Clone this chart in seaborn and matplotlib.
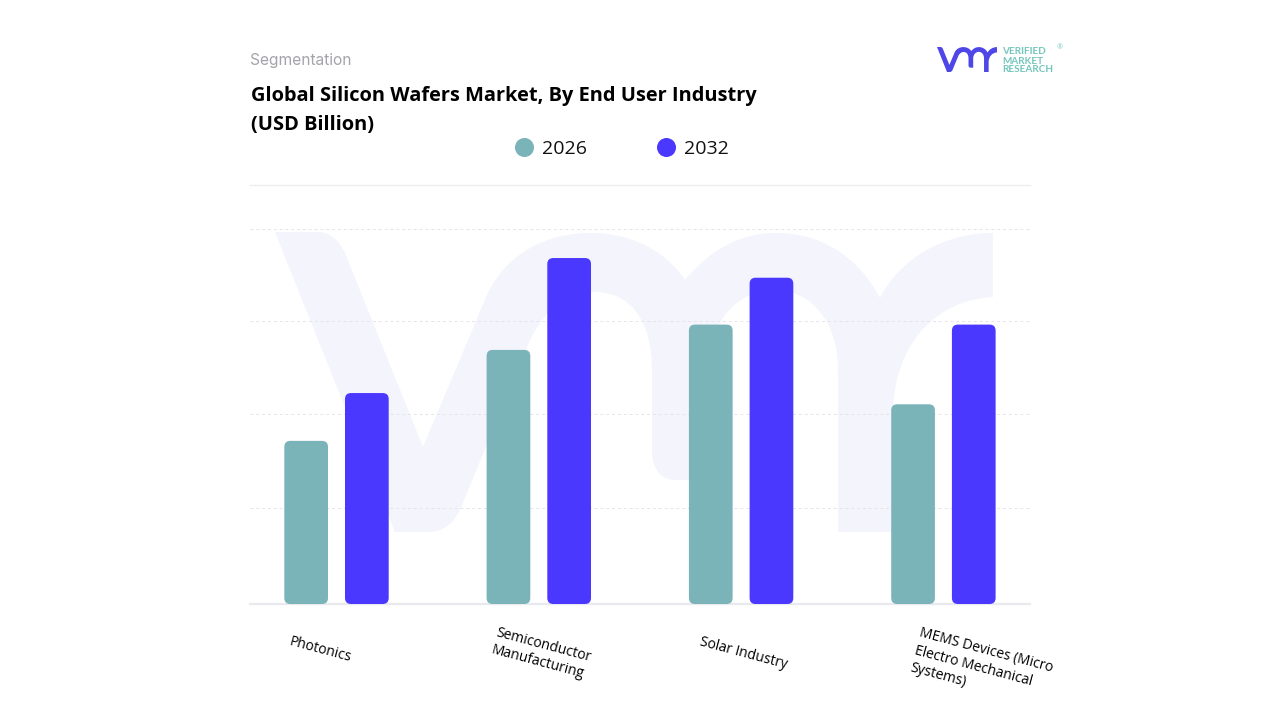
import pandas as pd
import matplotlib.pyplot as plt
import seaborn as sns
from matplotlib.lines import Line2D
from matplotlib.patches import FancyBboxPatch, PathPatch
from matplotlib.path import Path
from matplotlib.transforms import Affine2D, ScaledTranslation

segments = ["Photonics", "Semiconductor\nManufacturing", "Solar Industry",
            "MEMS Devices (Micro\nElectro Mechanical\nSystems)"]
years = ["2026", "2032"]
values_2026 = [1.74, 2.71, 2.98, 2.13]
values_2032 = [2.25, 3.69, 3.48, 2.98]
grid_levels = [1.02, 2.03, 3.02, 4.0]

TEAL = "#7ab3b8"
BLUE = "#4b38ff"

W, H = 1280, 720

sns.set_theme(style="white")
plt.rcParams['font.family'] = ['Open Sans', 'DejaVu Sans']


def logo_path():
    # vmr mark outline, in reference pixels
    M, L, C = Path.MOVETO, Path.LINETO, Path.CURVE4
    steps = [
        (M, (275, 232)), (L, (318, 232)),
        (C, (332, 232)), (C, (342, 244)), (C, (347, 258)),
        (L, (423, 447)),
        (L, (487, 295)),
        (C, (505, 255)), (C, (545, 233)), (C, (590, 233)),
        (C, (630, 233)), (C, (665, 250)), (C, (685, 280)),
        (C, (710, 250)), (C, (740, 233)), (C, (775, 233)),
        (C, (825, 233)), (C, (860, 260)), (C, (880, 298)),
        (C, (900, 258)), (C, (945, 233)), (C, (993, 233)),
        (L, (993, 297)),
        (C, (935, 300)), (C, (893, 345)), (C, (893, 415)),
        (L, (893, 532)), (L, (838, 532)), (L, (838, 370)),
        (C, (838, 320)), (C, (810, 290)), (C, (775, 290)),
        (C, (735, 290)), (C, (708, 325)), (C, (708, 370)),
        (L, (708, 480)), (L, (675, 480)),
        (C, (660, 480)), (C, (652, 468)), (C, (652, 450)),
        (L, (652, 370)),
        (C, (652, 320)), (C, (630, 292)), (C, (595, 292)),
        (C, (565, 292)), (C, (545, 310)), (C, (530, 340)),
        (L, (462, 505)),
        (C, (455, 522)), (C, (445, 532)), (C, (428, 532)),
        (L, (395, 532)),
        (L, (275, 232)),
    ]
    codes = [s[0] for s in steps]
    verts = [s[1] for s in steps]
    return Path(verts, codes)


fig = plt.figure(figsize=(W / 100, H / 100), dpi=100, facecolor="white")
ax = fig.add_axes([250 / W, 1 - 604 / H, 780 / W, 419 / H])
ax.patch.set_alpha(0)

# pixel space of the figure, y pointing down
px = Affine2D().scale(1 / W, -1 / H).translate(0, 1) + fig.transFigure
fig.patches.append(PathPatch(logo_path(), transform=px, facecolor="#f3f4fc",
                             edgecolor="none", zorder=-5))
small = Affine2D().translate(-275, -232).scale(60 / 718, 25 / 300).translate(937, 47)
fig.patches.append(PathPatch(logo_path(), transform=small + px, facecolor="#4f46e8",
                             edgecolor="none"))

df = pd.DataFrame({
    "segment": segments * 2,
    "year": [years[0]] * 4 + [years[1]] * 4,
    "value": values_2026 + values_2032,
})
sns.barplot(data=df, x="segment", y="value", hue="year", palette=[TEAL, BLUE],
            saturation=1, width=0.6, gap=0.28, legend=False, ax=ax)

ax.set_xlim(-0.4276, 3.428)
ax.set_ylim(0, 4.469)
ax.set_xlabel("")
ax.set_ylabel("")
ax.set_yticks(grid_levels)
ax.tick_params(axis="y", length=0, labelleft=False)
ax.tick_params(axis="x", length=0, pad=0)
ax.grid(True, axis="y", color="#e4e4ea", linestyle=(0, (3, 3)), linewidth=0.7)
ax.set_axisbelow(True)

for side in ["left", "right"]:
    ax.spines[side].set_visible(False)
ax.spines["top"].set_color("#eeeef2")
ax.spines["top"].set_linewidth(1)
ax.spines["bottom"].set_color("#e8eaef")
ax.spines["bottom"].set_linewidth(1.6)

# swap the square bars for rounded ones
x_unit = 3.8556 / 780
y_unit = 4.469 / 419
for bar in list(ax.patches):
    rounded = FancyBboxPatch((bar.get_x(), bar.get_y()), bar.get_width(), bar.get_height(),
                             boxstyle=f"round,pad=0,rounding_size={6 * x_unit}",
                             mutation_aspect=y_unit / x_unit,
                             facecolor=bar.get_facecolor(), edgecolor="none",
                             zorder=3, clip_on=False)
    bar.set_visible(False)
    ax.add_patch(rounded)

# label centres sit off the group centres in the reference
label_shift = [(-16, 46), (2, 50), (2, 49), (38, 64)]
ax.set_xticks(range(4))
ax.set_xticklabels(segments)
for label, (dx, dy) in zip(ax.get_xticklabels(), label_shift):
    label.set(rotation=-15, ha="center", va="center", multialignment="left",
              fontsize=10, color="black", linespacing=1.3)
    label.set_transform(label.get_transform()
                        + ScaledTranslation(dx / 100, -dy / 100, fig.dpi_scale_trans))

handles = [Line2D([], [], linestyle="none", marker="o", markersize=13.7,
                  markerfacecolor=c, markeredgecolor="none") for c in (TEAL, BLUE)]
fig.legend(handles, years, ncol=2, frameon=False, loc="center",
           bbox_to_anchor=(621.6 / W, 1 - 149 / H), fontsize=14, borderpad=0,
           handlelength=1, handletextpad=0.43, columnspacing=3.6, labelcolor="#111111")

fig.text(250 / W, 1 - 60 / H, "Segmentation", fontsize=11.2, color="#a3a3aa",
         family=["Inter", "DejaVu Sans"], va="center")
fig.text(251 / W, 1 - 96 / H, "Global Silicon Wafers Market, By End User Industry",
         fontsize=14.4, fontweight="bold", color="black", va="center")
fig.text(251 / W, 1 - 125 / H, "(USD Billion)", fontsize=14.4, fontweight="bold",
         color="black", va="center")

for y, word in zip((52, 61, 70), ("VERIFIED", "MARKET", "RESEARCH")):
    fig.text(1002 / W, 1 - y / H, word, fontsize=7.2, color="#74c6bd", fontweight="bold",
             family=["Lato", "DejaVu Sans"], va="center")
fig.text(1057 / W, 1 - 48 / H, "®", fontsize=5, color="#74c6bd", va="center")

fig.savefig("out.png", dpi=100)
